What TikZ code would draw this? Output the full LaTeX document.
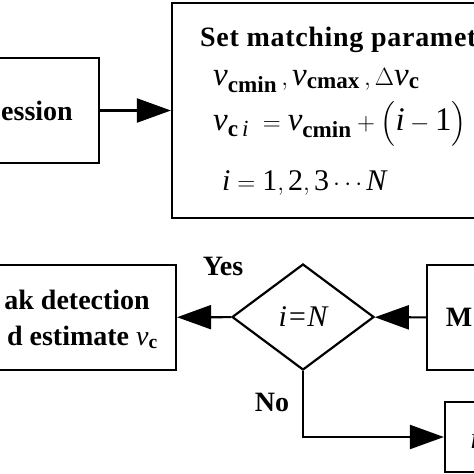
\documentclass[tikz,border=0pt]{standalone}
\usepackage{fontspec}
\setmainfont{Liberation Serif}
\usepackage{amsmath}
\usepackage{tikz}
\usetikzlibrary{arrows.meta}
\usetikzlibrary{shapes.geometric, calc}

\tikzset{
  box/.style={draw, line width=2.2pt, rectangle, inner sep=0pt, font=\fontsize{28}{34}\selectfont\bfseries},
  lbl/.style={font=\fontsize{28}{34}\selectfont\bfseries, inner sep=0pt},
  eqn/.style={font=\fontsize{33}{38}\selectfont, inner sep=0pt, anchor=base west},
  decision/.style={draw, line width=2.2pt, diamond, inner sep=0pt, minimum width=142pt, minimum height=106pt},
  flow/.style={line width=2.2pt, -{Triangle[length=34pt,width=24pt]}},
}

\begin{document}
\begin{tikzpicture}[x=1pt, y=-1pt]
        \useasboundingbox (0,0) rectangle (474,474);
        \clip (0,0) rectangle (474,474);
        % top row
        \node[box, minimum width=124pt, minimum height=105pt] (pc) at (37,110.5) {ession};
        \node[box, minimum width=420pt, minimum height=215pt] (param) at (382,110.5) {};
        \node[lbl, anchor=base west, font=\fontsize{28}{34}\selectfont\bfseries\addfontfeature{LetterSpace=2.5}] (ttl) at (200,46) {Set matching parameters};
        \node[eqn] (rng) at (213,85) {$\mathit{v}_{\mathbf{cmin}}\,, \mathit{v}_{\mathbf{cmax}}\,, \Delta\mathit{v}_{\mathbf{c}}$};
        \node[eqn] (stp) at (213,130) {$\mathit{v}_{\mathbf{c}\,\mathit{i}}\;=\mathit{v}_{\mathbf{cmin}}+\Bigl(\mathit{i}-\mathrm{1}\Bigr)$};
        \node[eqn, font=\fontsize{30}{38}\selectfont] (idx) at (222,190) {$\mathit{i}=\mathrm{1},\mathrm{2},\mathrm{3}\cdots\mathit{N}$};
        % bottom row
        \node[box, minimum width=300pt, minimum height=105pt] (peak) at (26,317.5) {};
        \node[lbl, anchor=base east] (pk1) at (150,309) {ak detection};
        \node[lbl, anchor=base east] (pk2) at (158,345) {d estimate $\mathit{v}_{\mathbf{c}}$};
        \node[decision, font=\fontsize{30}{36}\selectfont\itshape] (chk) at (303,317) {i=N};
        \node[box, minimum width=64pt, minimum height=105pt] (mf) at (459,317.5) {M};
        \node[box, minimum width=60pt, minimum height=70pt] (inc) at (475,437) {};
        \node[anchor=base west, inner sep=0pt, font=\fontsize{30}{36}\selectfont\itshape] (inctxt) at (470,448) {i};
        % connectors
        \draw[flow] (pc) -- (param);
        \draw[flow] (mf) -- (chk);
        \draw[flow] (chk) -- (peak);
        \draw[flow] (chk.south) |- (inc.west);
        \node[lbl] (yes) at (223,266) {Yes};
        \node[lbl] (no) at (272,402) {No};
    \end{tikzpicture}
\end{document}
